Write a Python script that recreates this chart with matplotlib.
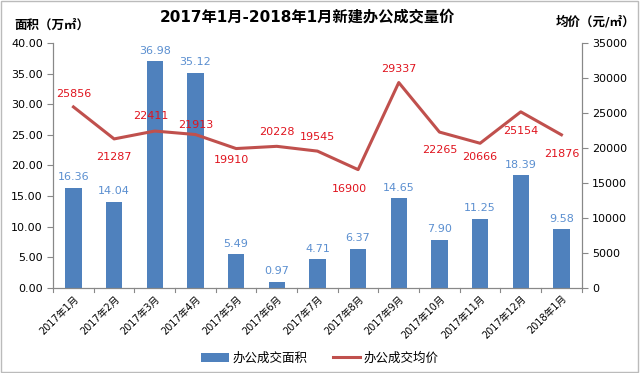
import matplotlib
matplotlib.use("Agg")
import matplotlib.pyplot as plt
import numpy as np
from matplotlib.patches import Rectangle
from matplotlib.lines import Line2D
from matplotlib.patches import Patch

plt.rcParams['font.family'] = ['DejaVu Sans', 'Noto Sans CJK SC']

months = ["2017年1月", "2017年2月", "2017年3月", "2017年4月", "2017年5月", "2017年6月",
          "2017年7月", "2017年8月", "2017年9月", "2017年10月", "2017年11月", "2017年12月",
          "2018年1月"]
area = [16.36, 14.04, 36.98, 35.12, 5.49, 0.97, 4.71, 6.37, 14.65, 7.90, 11.25, 18.39, 9.58]
price = [25856, 21287, 22411, 21913, 19910, 20228, 19545, 16900, 29337, 22265, 20666, 25154, 21876]
# label offsets (points) for the price labels: above (+) or below (-)
price_dy = [9, -13, 11, 7, -8, 10, 10, -14, 10, -13, -10, -14, -14]
price_dx = [0, 0, -3, 0, -3, 0, 0, -6, 0, 0, 0, 0, 0]

bar_color = "#4F81BD"
line_color = "#C0504D"

fig = plt.figure(figsize=(6.4, 3.73), dpi=100)
ax = fig.add_axes([0.083, 0.228, 0.826, 0.657])
ax2 = ax.twinx()

x = np.arange(len(months))
ax.bar(x, area, width=0.4, color=bar_color, zorder=2)
for xi, v in zip(x, area):
    ax.annotate(f"{v:.2f}", (xi, v), xytext=(0, 4), textcoords="offset points",
                ha="center", va="bottom", fontsize=8, color="#5B8FD0")

ax2.plot(x, price, color=line_color, linewidth=2.2, zorder=3)
for xi, v, dy, dx in zip(x, price, price_dy, price_dx):
    ax2.annotate(str(v), (xi, v), xytext=(dx, dy), textcoords="offset points",
                 ha="center", va="center", fontsize=8, color="#E0141E")

ax.set_xlim(-0.5, len(months) - 0.5)
ax.set_ylim(0, 40)
ax.set_yticks(np.arange(0, 41, 5))
ax.set_yticklabels([f"{t:.2f}" for t in np.arange(0, 41, 5)])
ax2.set_ylim(0, 35000)
ax2.set_yticks(np.arange(0, 35001, 5000))

ax.set_xticks(x)
ax.set_xticklabels(months, rotation=45, ha="right", rotation_mode="anchor", fontsize=7)
ax.tick_params(axis="x", length=0, pad=4)
ax.tick_params(axis="y", labelsize=8, direction="out", length=4, color="#888888")
ax2.tick_params(axis="y", labelsize=8, direction="out", length=4, color="#888888")
# category separator ticks
for b in np.arange(-0.5, len(months), 1.0):
    ax.plot([b, b], [0, -0.6], color="#888888", lw=0.8, clip_on=False)

for a in (ax, ax2):
    a.spines["top"].set_visible(False)
    for s in ("left", "right", "bottom"):
        a.spines[s].set_color("#888888")

fig.text(0.48, 0.955, "2017年1月-2018年1月新建办公成交量价", ha="center", va="center",
         fontsize=11, fontweight="bold")
fig.text(0.022, 0.933, "面积（万㎡）", ha="left", va="center", fontsize=9, fontweight="bold")
fig.text(0.993, 0.94, "均价（元/㎡）", ha="right", va="center", fontsize=9, fontweight="bold")

handles = [Patch(facecolor=bar_color), Line2D([0], [0], color=line_color, lw=2.2)]
fig.legend(handles, ["办公成交面积", "办公成交均价"], loc="center", bbox_to_anchor=(0.5, 0.04),
           ncol=2, frameon=False, fontsize=9, handlelength=2.2, handletextpad=0.3,
           columnspacing=2.0)

fig.patches.append(Rectangle((0.002, 0.003), 0.995, 0.993, transform=fig.transFigure,
                             fill=False, edgecolor="#BBBBBB", lw=1))

fig.savefig("out.png", dpi=100)
